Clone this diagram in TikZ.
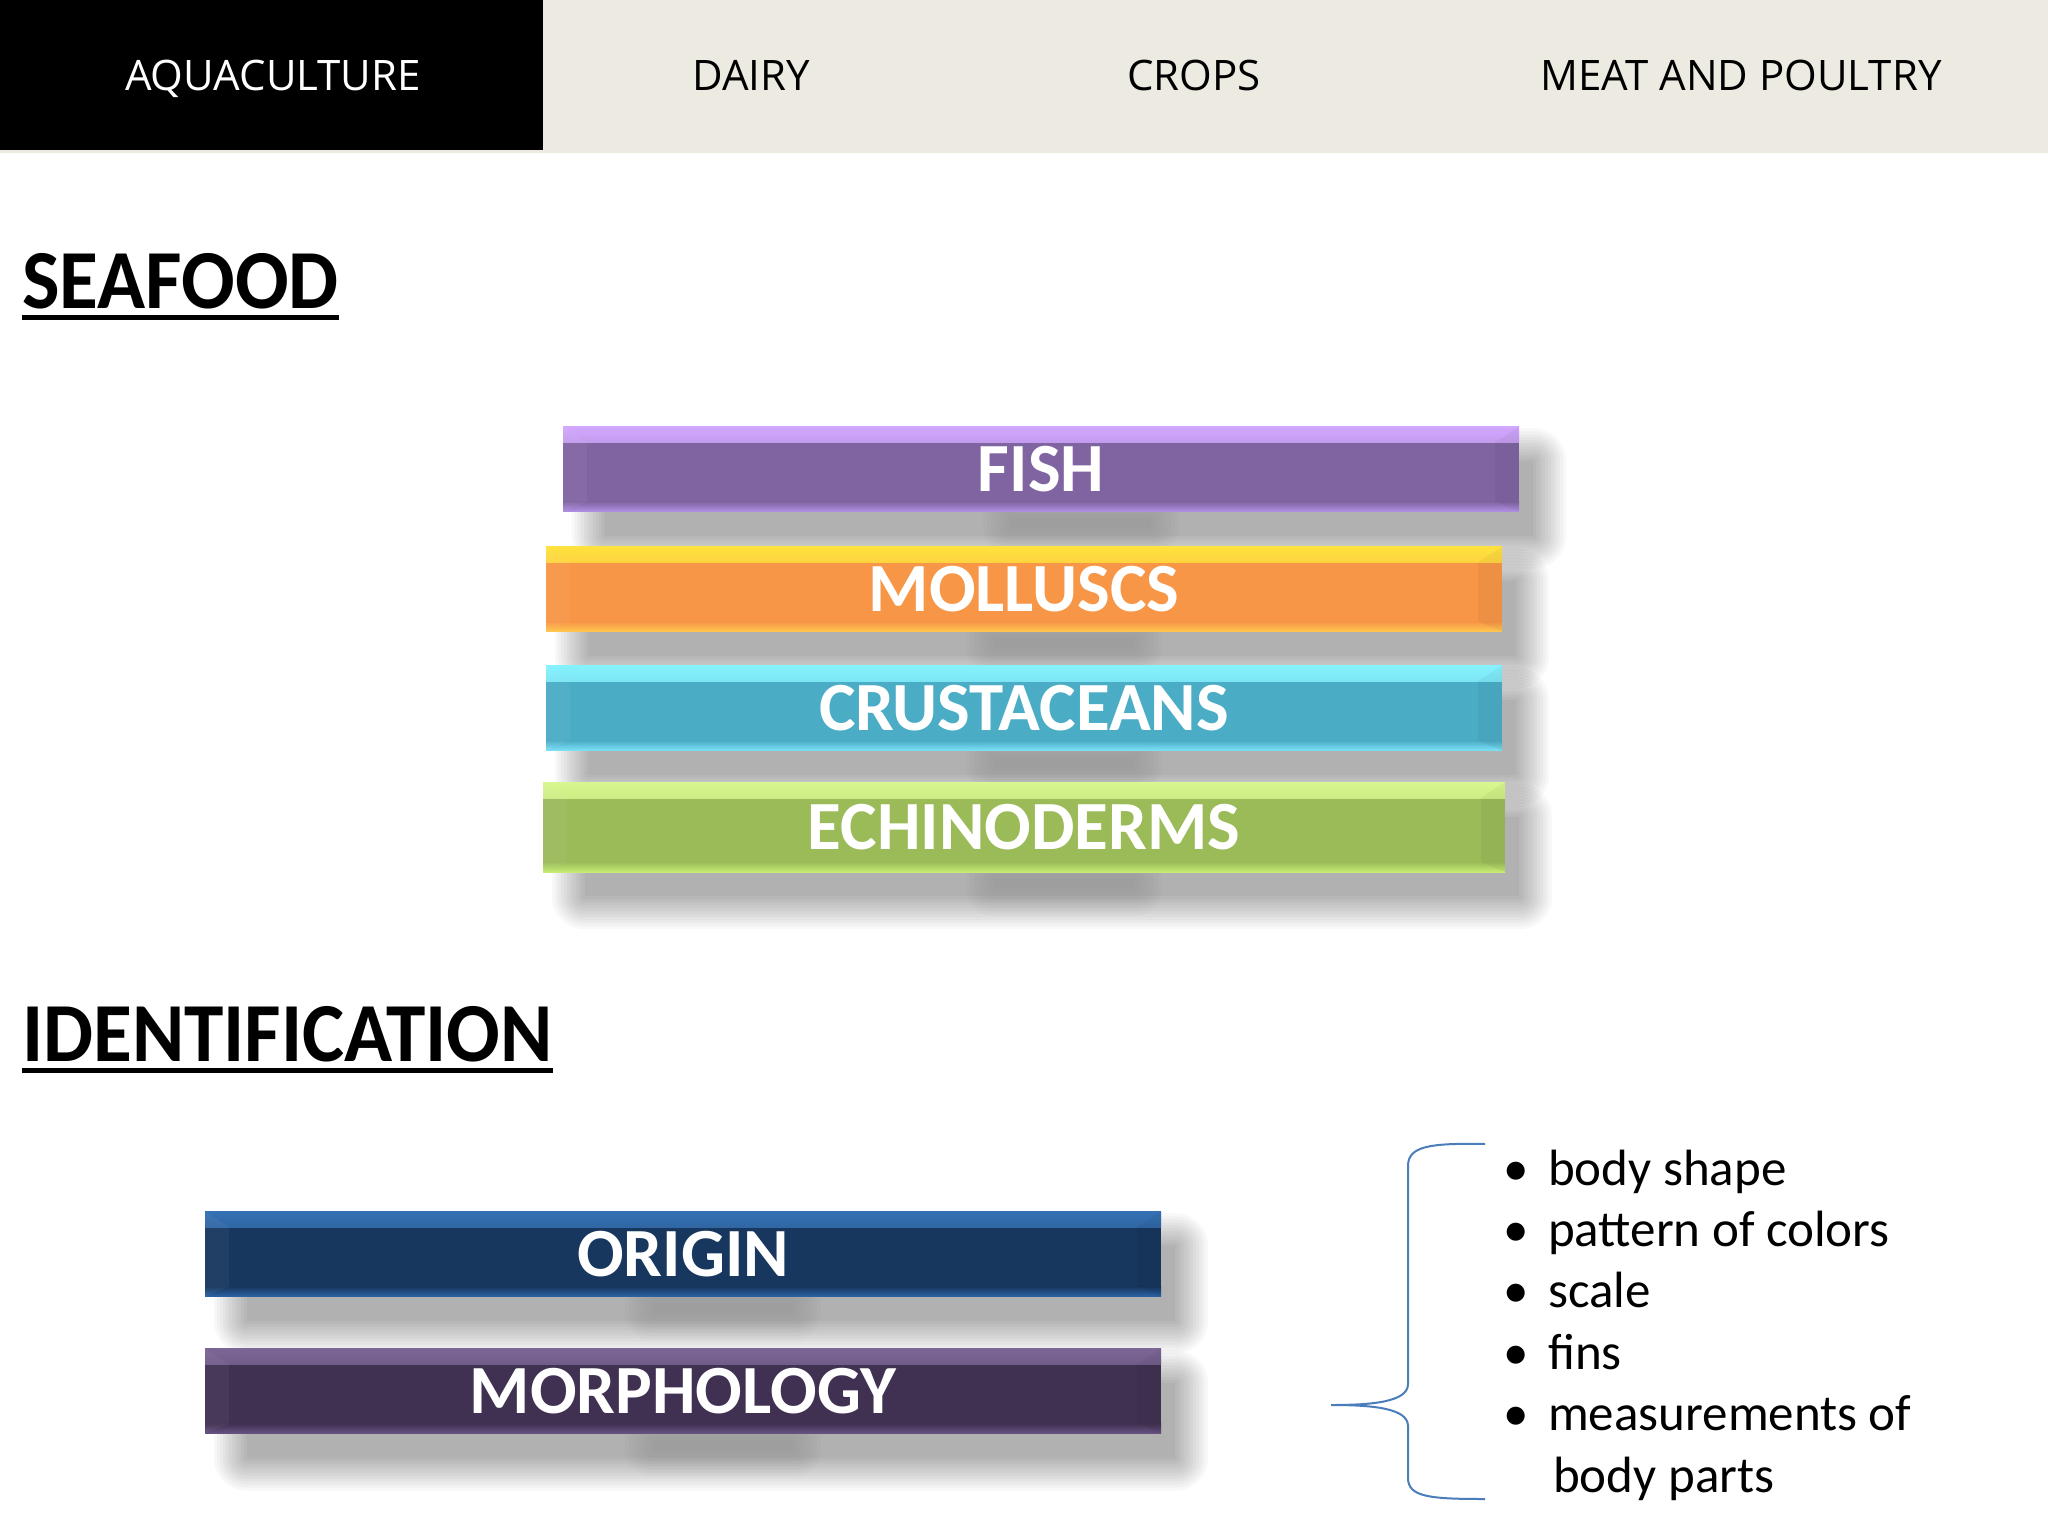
\documentclass[tikz,border=0pt]{standalone}
\usepackage{fontspec}
\setmainfont{Carlito}
\newfontfamily\hdrfont{Open Sans}
\usetikzlibrary{calc}
\pgfdeclarelayer{bg}
\pgfsetlayers{bg,main}
\definecolor{hdrbg}{HTML}{EDEAE2}
\definecolor{fishc}{HTML}{8064A2}\definecolor{fisht}{HTML}{D2A8FF}\definecolor{fishb}{HTML}{B290E4}
\definecolor{molc}{HTML}{F79646}\definecolor{molt}{HTML}{FFE23E}\definecolor{molb}{HTML}{FFC850}
\definecolor{cruc}{HTML}{4BACC6}\definecolor{crut}{HTML}{86F2FF}\definecolor{crub}{HTML}{7CE2F6}
\definecolor{echc}{HTML}{9BBB59}\definecolor{echt}{HTML}{D8F78E}\definecolor{echb}{HTML}{C6EC72}
\definecolor{oric}{HTML}{17375E}\definecolor{orit}{HTML}{3571B4}\definecolor{orib}{HTML}{2C63A6}
\definecolor{morc}{HTML}{403152}\definecolor{mort}{HTML}{7C6696}\definecolor{morb}{HTML}{685383}
\definecolor{bracec}{HTML}{4A7EBB}
\newcommand\barshadow[1]{%
  \begin{pgfonlayer}{bg}
  \foreach \e in {0,3,...,33}{
    \fill[black, opacity=0.026, rounded corners=\e pt]
      ($(#1.north west)+(42-\e,35-\e)$) rectangle ($(#1.south east)+(14+\e,24+\e)$);
  }
  \foreach \e in {0,4,...,28}{
    \fill[black, opacity=0.012, rounded corners=\e pt]
      ($(#1.south)+(-30-\e,6-\e)$) rectangle ($(#1.south)+(110+\e,16+\e)$);
  }
  \end{pgfonlayer}}
\begin{document}
\begin{tikzpicture}[x=1pt,y=-1pt,
  hdr/.style={font=\hdrfont\fontsize{42}{50}\selectfont, inner sep=0pt, anchor=base},
  heading/.style={font=\fontsize{84}{100}\selectfont\bfseries, inner sep=0pt, anchor=base west},
  item/.style={font=\fontsize{51}{60}\selectfont, inner sep=0pt, anchor=base west},
  barbox/.style n args={3}{minimum width=956pt, minimum height=85pt, inner sep=0pt,
    fill=#1, text=white, font=\fontsize{69}{80}\selectfont\bfseries,
    path picture={
      \fill[top color=#2, bottom color=#1] (path picture bounding box.north west) rectangle ([yshift=-16pt]path picture bounding box.north east);
      \fill[top color=#1, bottom color=#3] ([yshift=10pt]path picture bounding box.south west) rectangle (path picture bounding box.south east);
      \fill[white, opacity=0.045] (path picture bounding box.north west) -- ([xshift=24pt,yshift=-16pt]path picture bounding box.north west) -- ([xshift=24pt,yshift=10pt]path picture bounding box.south west) -- (path picture bounding box.south west) -- cycle;
      \fill[black, opacity=0.04] (path picture bounding box.north east) -- ([xshift=-24pt,yshift=-16pt]path picture bounding box.north east) -- ([xshift=-24pt,yshift=10pt]path picture bounding box.south east) -- (path picture bounding box.south east) -- cycle;
    }}]
\useasboundingbox (0,0) rectangle (2048,1536);
\begin{pgfonlayer}{bg}
\fill[white] (0,0) rectangle (2048,1536);
\end{pgfonlayer}
% header
\fill[hdrbg] (0,0) rectangle (2048,153);
\fill[black] (0,0) rectangle (543,150);
\node[hdr, text=white] (aqua) at (273,91) {AQUACULTURE};
\node[hdr] (dairy) at (751,91) {DAIRY};
\node[hdr] (crops) at (1194,91) {CROPS};
\node[hdr] (meat) at (1741,91) {MEAT AND POULTRY};
% headings
\node[heading] (seafood) at (22,308) {\scalebox{0.945}[1]{SEAFOOD}};
\draw[line width=5pt] ([yshift=-9pt]seafood.base west) -- ([yshift=-9pt]seafood.base east);
\node[heading] (ident) at (22,1061) {\scalebox{0.945}[1]{IDENTIFICATION}};
\draw[line width=5pt] ([yshift=-9pt]ident.base west) -- ([yshift=-9pt]ident.base east);
% seafood bars
\node[barbox={fishc}{fisht}{fishb}] (fish) at (1041,469) {FISH};
\barshadow{fish}
\node[barbox={molc}{molt}{molb}] (moll) at (1024,589) {MOLLUSCS};
\barshadow{moll}
\node[barbox={cruc}{crut}{crub}] (crus) at (1024,708) {CRUSTACEANS};
\barshadow{crus}
\node[barbox={echc}{echt}{echb}, minimum width=962pt, minimum height=90pt] (echi) at (1024,827) {ECHINODERMS};
\barshadow{echi}
% identification bars
\node[barbox={oric}{orit}{orib}] (origin) at (683,1254) {ORIGIN};
\barshadow{origin}
\node[barbox={morc}{mort}{morb}] (morph) at (683,1391) {MORPHOLOGY};
\barshadow{morph}
% brace
\draw[bracec, line width=2pt] (1485,1144) .. controls (1430,1143) and (1408,1146) .. (1408,1166)
  -- (1408,1384) .. controls (1408,1402) and (1372,1405) .. (1331,1405)
  .. controls (1372,1405) and (1408,1408) .. (1408,1426)
  -- (1408,1478) .. controls (1408,1497) and (1430,1499) .. (1485,1499);
% list
\node[item] (l1) at (1503,1185) {\makebox[45pt][l]{•}body shape};
\node[item] (l2) at (1503,1246) {\makebox[45pt][l]{•}pattern of colors};
\node[item] (l3) at (1503,1307) {\makebox[45pt][l]{•}scale};
\node[item] (l4) at (1503,1369) {\makebox[45pt][l]{•}fins};
\node[item] (l5) at (1503,1430) {\makebox[45pt][l]{•}measurements of};
\node[item] (l6) at (1553,1492) {body parts};
\end{tikzpicture}
\end{document}
